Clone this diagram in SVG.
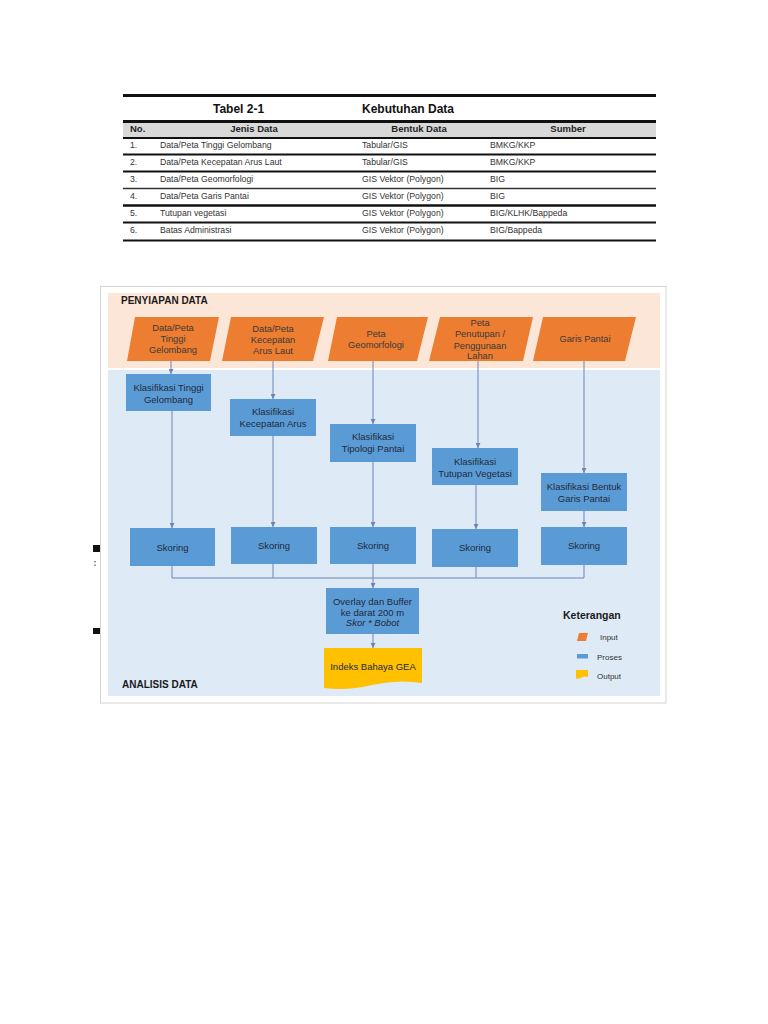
<svg xmlns="http://www.w3.org/2000/svg" width="768" height="1024" viewBox="0 0 768 1024">
<defs>
<style>
.t{font-family:"Liberation Sans",Arial,sans-serif;}
.tb{font-family:"Liberation Sans",Arial,sans-serif;font-size:8.7px;fill:#333;}
.th{font-family:"Liberation Sans",Arial,sans-serif;font-size:9.5px;font-weight:bold;fill:#222;}
.inp{fill:#ED7D31;}
.pro{fill:#5B9BD5;}
.out{fill:#FFC000;}
.it{font-family:"Liberation Sans",Arial,sans-serif;font-size:9.3px;fill:#3a3a3a;text-anchor:middle;}
.bt{font-family:"Liberation Sans",Arial,sans-serif;font-size:9.5px;fill:#1e2a3a;text-anchor:middle;}
.cn{stroke:#7083b5;stroke-width:1;fill:none;}
.rl{stroke:#111;stroke-width:2;}
</style>
<marker id="ah" markerWidth="5" markerHeight="5" refX="5" refY="2.5" orient="auto" markerUnits="userSpaceOnUse">
<path d="M0,0 L5,2.5 L0,5 Z" fill="#7083b5"/>
</marker>
</defs>
<rect width="768" height="1024" fill="#ffffff"/>

<!-- Table -->
<g id="table">
<line x1="123" y1="95.5" x2="656" y2="95.5" stroke="#111" stroke-width="3"/>
<text class="t" x="213" y="113" font-size="12" font-weight="bold" fill="#111">Tabel 2-1</text>
<text class="t" x="362" y="113" font-size="12" font-weight="bold" fill="#111">Kebutuhan Data</text>
<rect x="123" y="122" width="533" height="16" fill="#D9D9D9"/>
<line x1="123" y1="121.5" x2="656" y2="121.5" stroke="#111" stroke-width="3"/>
<line class="rl" x1="123" y1="138" x2="656" y2="138"/>
<text class="th" x="130" y="131.5">No.</text>
<text class="th" x="254" y="131.5" text-anchor="middle">Jenis Data</text>
<text class="th" x="419" y="131.5" text-anchor="middle">Bentuk Data</text>
<text class="th" x="568" y="131.5" text-anchor="middle">Sumber</text>
<text class="tb" x="130" y="148">1.</text>
<text class="tb" x="160" y="148">Data/Peta Tinggi Gelombang</text>
<text class="tb" x="362" y="148">Tabular/GIS</text>
<text class="tb" x="490" y="148">BMKG/KKP</text>
<line class="rl" x1="123" y1="154.5" x2="656" y2="154.5"/>
<text class="tb" x="130" y="165">2.</text>
<text class="tb" x="160" y="165">Data/Peta Kecepatan Arus Laut</text>
<text class="tb" x="362" y="165">Tabular/GIS</text>
<text class="tb" x="490" y="165">BMKG/KKP</text>
<line class="rl" x1="123" y1="171.5" x2="656" y2="171.5"/>
<text class="tb" x="130" y="182">3.</text>
<text class="tb" x="160" y="182">Data/Peta Geomorfologi</text>
<text class="tb" x="362" y="182">GIS Vektor (Polygon)</text>
<text class="tb" x="490" y="182">BIG</text>
<line x1="123" y1="188.5" x2="656" y2="188.5" stroke="#333" stroke-width="1.5"/>
<text class="tb" x="130" y="199">4.</text>
<text class="tb" x="160" y="199">Data/Peta Garis Pantai</text>
<text class="tb" x="362" y="199">GIS Vektor (Polygon)</text>
<text class="tb" x="490" y="199">BIG</text>
<line x1="123" y1="205.5" x2="656" y2="205.5" stroke="#111" stroke-width="2.5"/>
<text class="tb" x="130" y="216">5.</text>
<text class="tb" x="160" y="216">Tutupan vegetasi</text>
<text class="tb" x="362" y="216">GIS Vektor (Polygon)</text>
<text class="tb" x="490" y="216">BIG/KLHK/Bappeda</text>
<line class="rl" x1="123" y1="222.5" x2="656" y2="222.5"/>
<text class="tb" x="130" y="233">6.</text>
<text class="tb" x="160" y="233">Batas Administrasi</text>
<text class="tb" x="362" y="233">GIS Vektor (Polygon)</text>
<text class="tb" x="490" y="233">BIG/Bappeda</text>
<line class="rl" x1="123" y1="240.5" x2="656" y2="240.5"/>
</g>

<!-- margin marks -->
<rect x="93" y="545" width="7" height="7" fill="#111"/>
<rect x="94" y="561" width="2" height="1.5" fill="#999"/>
<rect x="94" y="564.5" width="2" height="1.5" fill="#999"/>
<rect x="93" y="628" width="7" height="6" fill="#111"/>

<!-- frame and panels -->
<g id="panels">
<rect x="100.5" y="286.5" width="565.5" height="416.5" fill="#ffffff" stroke="#d4d4d4" stroke-width="1"/>
<rect x="108" y="293" width="552" height="75" fill="#FCE6D8"/>
<rect x="108" y="370" width="552" height="326" fill="#DEEAF6"/>
<text class="t" x="121" y="304" font-size="10" font-weight="bold" fill="#1a1a1a">PENYIAPAN DATA</text>
<text class="t" x="122" y="688" font-size="10" font-weight="bold" fill="#1a1a1a">ANALISIS DATA</text>
</g>

<!-- connectors -->
<g id="connectors">
<line class="cn" x1="171" y1="361" x2="171" y2="374" marker-end="url(#ah)"/>
<line class="cn" x1="172" y1="411" x2="172" y2="528" marker-end="url(#ah)"/>
<line class="cn" x1="273" y1="361" x2="273" y2="399" marker-end="url(#ah)"/>
<line class="cn" x1="273" y1="436" x2="273" y2="527" marker-end="url(#ah)"/>
<line class="cn" x1="373" y1="361" x2="373" y2="424" marker-end="url(#ah)"/>
<line class="cn" x1="373" y1="462" x2="373" y2="527" marker-end="url(#ah)"/>
<line class="cn" x1="478" y1="361" x2="478" y2="448" marker-end="url(#ah)"/>
<line class="cn" x1="476" y1="485" x2="476" y2="529" marker-end="url(#ah)"/>
<line class="cn" x1="584" y1="361" x2="584" y2="473" marker-end="url(#ah)"/>
<line class="cn" x1="584" y1="511" x2="584" y2="527" marker-end="url(#ah)"/>
<path class="cn" d="M172,566 V578 H584 V565 M273,564 V578 M373,564 V578 M476,567 V578"/>
<line class="cn" x1="373" y1="578" x2="373" y2="588" marker-end="url(#ah)"/>
<line class="cn" x1="373" y1="634" x2="373" y2="648" marker-end="url(#ah)"/>
</g>

<!-- input nodes -->
<g id="in1"><polygon class="inp" points="135,317 219,317 210,361 127,361"/>
<text class="it" x="173" y="331">Data/Peta</text><text class="it" x="173" y="342">Tinggi</text><text class="it" x="173" y="353">Gelombang</text></g>
<g id="in2"><polygon class="inp" points="231,317 324,317 313,361 222,361"/>
<text class="it" x="273" y="332">Data/Peta</text><text class="it" x="273" y="343">Kecepatan</text><text class="it" x="273" y="354">Arus Laut</text></g>
<g id="in3"><polygon class="inp" points="337,317 428,317 417,361 328,361"/>
<text class="it" x="376" y="337">Peta</text><text class="it" x="376" y="348">Geomorfologi</text></g>
<g id="in4"><polygon class="inp" points="440,317 533,317 523,361 429,361"/>
<text class="it" x="480" y="326">Peta</text><text class="it" x="480" y="337">Penutupan /</text><text class="it" x="480" y="348.5">Penggunaan</text><text class="it" x="480" y="359">Lahan</text></g>
<g id="in5"><polygon class="inp" points="543,317 636,317 625,361 533,361"/>
<text class="it" x="585" y="342">Garis Pantai</text></g>

<!-- classification nodes -->
<g id="k1"><rect class="pro" x="126" y="374" width="85" height="37"/>
<text class="bt" x="168.5" y="391">Klasifikasi Tinggi</text><text class="bt" x="168.5" y="402.5">Gelombang</text></g>
<g id="k2"><rect class="pro" x="230" y="399" width="86" height="37"/>
<text class="bt" x="273" y="415">Klasifikasi</text><text class="bt" x="273" y="426.5">Kecepatan Arus</text></g>
<g id="k3"><rect class="pro" x="330" y="424" width="86" height="38"/>
<text class="bt" x="373" y="440">Klasifikasi</text><text class="bt" x="373" y="452">Tipologi Pantai</text></g>
<g id="k4"><rect class="pro" x="432" y="448" width="86" height="37"/>
<text class="bt" x="475" y="465">Klasifikasi</text><text class="bt" x="475" y="476.5">Tutupan Vegetasi</text></g>
<g id="k5"><rect class="pro" x="541" y="473" width="86" height="38"/>
<text class="bt" x="584" y="490">Klasifikasi Bentuk</text><text class="bt" x="584" y="501.5">Garis Pantai</text></g>

<!-- skoring nodes -->
<g id="s1"><rect class="pro" x="130" y="528" width="85" height="38"/><text class="bt" x="172.5" y="550.5">Skoring</text></g>
<g id="s2"><rect class="pro" x="231" y="527" width="86" height="37"/><text class="bt" x="274" y="549">Skoring</text></g>
<g id="s3"><rect class="pro" x="330" y="527" width="86" height="37"/><text class="bt" x="373" y="549">Skoring</text></g>
<g id="s4"><rect class="pro" x="432" y="529" width="86" height="38"/><text class="bt" x="475" y="551">Skoring</text></g>
<g id="s5"><rect class="pro" x="541" y="527" width="86" height="38"/><text class="bt" x="584" y="549">Skoring</text></g>

<!-- overlay -->
<g id="overlay"><rect class="pro" x="326" y="588" width="93" height="46"/>
<text class="bt" x="372.5" y="605">Overlay dan Buffer</text>
<text class="bt" x="372.5" y="615.5">ke darat 200 m</text>
<text class="bt" x="372.5" y="626" font-style="italic">Skor * Bobot</text></g>

<!-- output -->
<g id="output"><path class="out" d="M324,648 H422 V683 Q397,679 372,685 Q347,691 324,688 Z"/>
<text class="bt" x="373" y="670" font-size="9.7">Indeks Bahaya GEA</text></g>

<!-- legend -->
<g id="legend">
<text class="t" x="563" y="619" font-size="10.5" font-weight="bold" fill="#1a1a1a">Keterangan</text>
<polygon class="inp" points="579,633 588,633 586,641 577,641"/>
<text class="t" x="600" y="640" font-size="8" fill="#333">Input</text>
<rect class="pro" x="577" y="654" width="11" height="4.5"/>
<text class="t" x="597" y="660" font-size="8" fill="#333">Proses</text>
<path class="out" d="M576,670 H588 V677 Q584,676 582,677.5 Q579,679 576,678.5 Z"/>
<text class="t" x="597" y="679" font-size="8" fill="#333">Output</text>
</g>
</svg>
